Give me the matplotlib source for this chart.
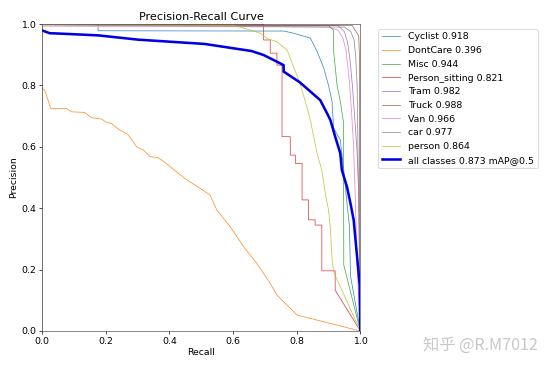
import matplotlib
matplotlib.use("Agg")
import matplotlib.pyplot as plt

# ---- data ----
cyclist_r = [0.0, 0.176, 0.176, 0.76, 0.79, 0.843, 0.864, 0.885, 0.9, 0.911, 0.916, 0.937, 0.948, 0.958, 0.966, 0.969, 1.0]
cyclist_p = [0.999, 0.999, 0.978, 0.977, 0.97, 0.954, 0.911, 0.857, 0.80, 0.749, 0.661, 0.622, 0.524, 0.417, 0.34, 0.18, 0.0]

dontcare_r = [0.0, 0.008, 0.019, 0.027, 0.077, 0.092, 0.134, 0.155, 0.187, 0.202, 0.218, 0.239, 0.27, 0.286, 0.297,
              0.318, 0.339, 0.365, 0.386, 0.428, 0.455, 0.48, 0.528, 0.549, 0.591, 0.633, 0.675, 0.717, 0.738, 0.78, 0.801, 1.0]
dontcare_p = [0.79, 0.785, 0.752, 0.725, 0.725, 0.714, 0.712, 0.695, 0.69, 0.68, 0.676, 0.658, 0.64, 0.617, 0.60,
              0.59, 0.568, 0.565, 0.549, 0.514, 0.492, 0.476, 0.443, 0.394, 0.34, 0.275, 0.22, 0.155, 0.117, 0.074, 0.052, 0.0]

misc_r = [0.0, 0.9, 0.916, 0.916, 0.927, 0.937, 0.947, 0.948, 1.0]
misc_p = [0.998, 0.995, 0.98, 0.912, 0.80, 0.749, 0.68, 0.215, 0.0]

psit_r = [0.0, 0.696, 0.696, 0.717, 0.717, 0.738, 0.738, 0.754, 0.754, 0.78, 0.78, 0.796, 0.796, 0.817, 0.817,
          0.837, 0.837, 0.858, 0.858, 0.879, 0.879, 0.921, 0.921, 1.0]
psit_p = [0.999, 0.999, 0.948, 0.948, 0.905, 0.905, 0.866, 0.866, 0.633, 0.633, 0.573, 0.573, 0.546, 0.546, 0.427,
          0.427, 0.362, 0.362, 0.345, 0.345, 0.196, 0.196, 0.133, 0.0]

tram_r = [0.0, 0.93, 0.95, 0.96, 0.968, 0.975, 0.982, 0.99, 0.995, 1.0]
tram_p = [0.998, 0.995, 0.975, 0.94, 0.88, 0.80, 0.70, 0.58, 0.45, 0.0]

truck_r = [0.0, 0.975, 0.98, 0.99, 0.995, 0.997, 0.997, 1.0]
truck_p = [0.999, 0.995, 0.985, 0.97, 0.96, 0.90, 0.54, 0.0]

van_r = [0.0, 0.9, 0.93, 0.945, 0.955, 0.965, 0.972, 0.979, 0.984, 0.99, 1.0]
van_p = [0.993, 0.99, 0.98, 0.955, 0.915, 0.82, 0.72, 0.60, 0.44, 0.21, 0.0]

car_r = [0.0, 0.95, 0.97, 0.98, 0.985, 0.99, 0.993, 1.0]
car_p = [0.997, 0.99, 0.975, 0.95, 0.90, 0.80, 0.55, 0.0]

person_r = [0.0, 0.6, 0.623, 0.686, 0.707, 0.738, 0.77, 0.79, 0.811, 0.832, 0.843, 0.864, 0.879, 0.89, 0.9, 0.906, 0.911, 0.916, 1.0]
person_p = [0.999, 0.995, 0.99, 0.97, 0.953, 0.942, 0.915, 0.861, 0.805, 0.73, 0.687, 0.579, 0.524, 0.449, 0.394, 0.335, 0.238, 0.193, 0.0]

all_r = [0.0, 0.003, 0.024, 0.05, 0.176, 0.302, 0.511, 0.658, 0.696, 0.748, 0.759, 0.759, 0.81, 0.874, 0.895, 0.906,
         0.921, 0.937, 0.942, 0.958, 0.969, 0.979, 0.99, 0.998, 1.0]
all_p = [0.98, 0.978, 0.970, 0.969, 0.963, 0.949, 0.935, 0.912, 0.899, 0.872, 0.866, 0.845, 0.81, 0.752, 0.71, 0.687,
         0.633, 0.579, 0.524, 0.47, 0.416, 0.362, 0.24, 0.15, 0.0]

class_names = ["Cyclist", "DontCare", "Misc", "Person_sitting", "Tram", "Truck", "Van", "car", "person"]
class_ap = [0.918, 0.396, 0.944, 0.821, 0.982, 0.988, 0.966, 0.977, 0.864]
class_r = [cyclist_r, dontcare_r, misc_r, psit_r, tram_r, truck_r, van_r, car_r, person_r]
class_p = [cyclist_p, dontcare_p, misc_p, psit_p, tram_p, truck_p, van_p, car_p, person_p]
map50 = 0.873

plt.rcParams["font.size"] = 11

fig = plt.figure(figsize=(9, 6), dpi=61.5)
ax = fig.add_axes([42 / 553, 38 / 369, 318 / 553, 307 / 369])

for name, ap, r, p in zip(class_names, class_ap, class_r, class_p):
    ax.plot(r, p, linewidth=0.9, alpha=0.85, label=f"{name} {ap:.3f}")
ax.plot(all_r, all_p, linewidth=3, color="#0000e0", label=f"all classes {map50:.3f} mAP@0.5")

for s in ax.spines.values():
    s.set_color("#555555")
ax.spines["left"].set_color("#333333")

ax.set_xlabel("Recall", labelpad=2)
ax.set_ylabel("Precision")
ax.set_xlim(0, 1)
ax.set_ylim(0, 1)
ax.set_title("Precision-Recall Curve", pad=5)
leg = ax.legend(bbox_to_anchor=(1.04, 1), loc="upper left")
for h in leg.get_lines()[:-1]:
    h.set_alpha(0.85)

fig.text(0.971, 0.065, "知乎 @R.M7012", ha="right", va="center", fontsize=19,
         color="#c8c8c8", family=["Noto Sans CJK SC", "DejaVu Sans"])

fig.savefig("out.png", dpi=61.5)
